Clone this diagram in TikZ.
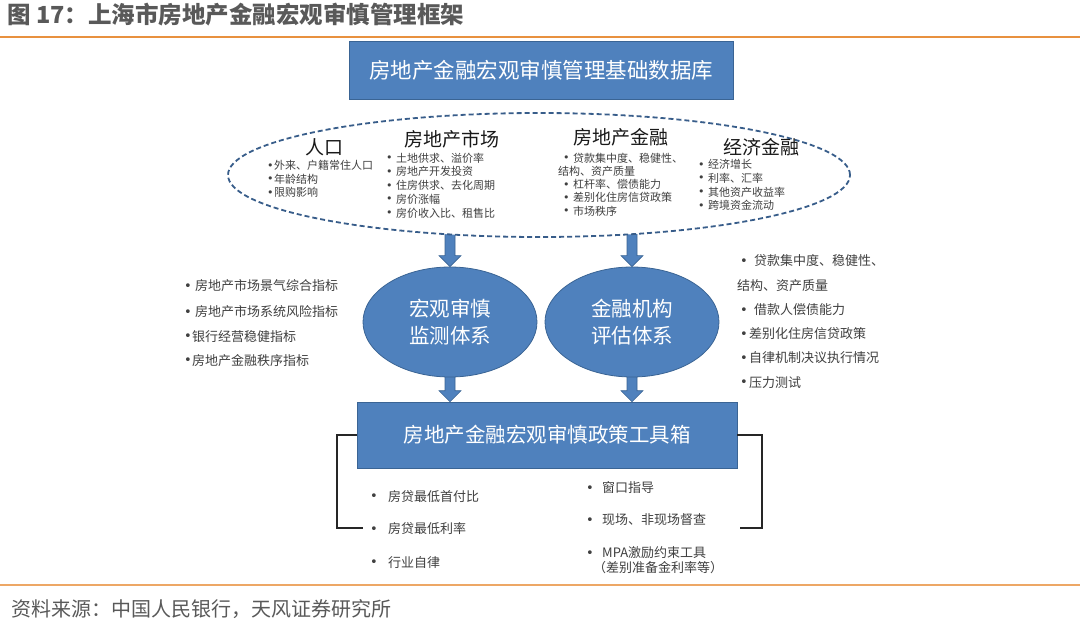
\documentclass[tikz,border=0pt]{standalone}
\usepackage{fontspec}
\setmainfont{Noto Sans CJK SC}
\newfontfamily\dejavu{DejaVu Sans}
\usetikzlibrary{shapes.geometric,calc}
\pgfdeclarelayer{background}
\pgfsetlayers{background,main}
\definecolor{boxblue}{HTML}{4F81BD}
\definecolor{boxborder}{HTML}{3A6494}
\definecolor{dashblue}{HTML}{385D8A}
\definecolor{orangeline}{HTML}{E8913F}
\definecolor{titlegray}{HTML}{595959}
\definecolor{txtgray}{HTML}{404040}
\newcommand\fs[1]{\fontsize{#1}{#1}\selectfont}
\newcommand\bu[1]{\makebox[#1][l]{\dejavu\raisebox{0.05em}{•}}}
\newcommand\downblock[2]{%
  \path[blockarrow] let \p1=(#1), \p2=(#2) in
    ({\x2-5pt},{\y1}) -- ({\x2+5pt},{\y1}) -- ({\x2+5pt},{\y2+11pt}) --
    ({\x2+11pt},{\y2+11pt}) -- ({\x2},{\y2}) -- ({\x2-11pt},{\y2+11pt}) --
    ({\x2-5pt},{\y2+11pt}) -- cycle;}
\tikzset{
  bluebox/.style={rectangle, fill=boxblue, draw=boxborder, line width=0.6pt, text=white, inner sep=0pt},
  bluecirc/.style={ellipse, fill=boxblue, draw=boxborder, line width=0.8pt, text=white, inner sep=0pt,
    minimum width=174, minimum height=110, align=center, font=\fontsize{20.5}{27}\selectfont},
  blockarrow/.style={fill=boxblue, draw=boxborder, line width=0.6pt},
  headtxt/.style={font=\fs{19}, text=black!90, inner sep=0pt},
  smalltxt/.style={font=\fs{11}, text=txtgray, anchor=west, inner sep=0pt},
  listtxt/.style={font=\fs{13}, text=txtgray, anchor=west, inner sep=0pt},
  bracketline/.style={draw=black!85, line width=1.4pt},
}
\begin{document}
\begin{tikzpicture}[x=1pt,y=-1pt]
\useasboundingbox (0,0) rectangle (1080,624);
\begin{pgfonlayer}{background}
\fill[white] (0,0) rectangle (1080,624);
\end{pgfonlayer}

% title and source
\node[anchor=west, font=\fs{23.5}\bfseries, text=titlegray, inner sep=0pt] (title) at (7,15) {图 17：上海市房地产金融宏观审慎管理框架};
\draw[orangeline, line width=2pt] (0,36.5) -- (1080,36.5);
\draw[orangeline!80, line width=1.5pt] (0,585) -- (1080,585);
\node[anchor=west, font=\fs{20}, text=titlegray, inner sep=0pt] (src) at (11,609) {资料来源：中国人民银行，天风证券研究所};

% top box
\node[bluebox, minimum width=384, minimum height=58, font=\fs{21.5}] (db) at (541,70) {房地产金融宏观审慎管理基础数据库};

% monitoring & assessment systems
\node[bluecirc] (mon) at (450,322) {宏观审慎\\监测体系};
\node[bluecirc] (ins) at (632,322) {金融机构\\评估体系};

% dashed ellipse with contents
\node[ellipse, draw=dashblue, line width=1.8pt, dash pattern=on 5pt off 3pt, fill=white,
      minimum width=622, minimum height=124, inner sep=0pt] (env) at (539,175) {};

\node[headtxt] (hpop) at (324,147) {人口};
\node[headtxt] (hmkt) at (452,139) {房地产市场};
\node[headtxt] (hfin) at (621,137) {房地产金融};
\node[headtxt] (heco) at (761,147) {经济金融};

\foreach \t [count=\i] in {外来、户籍常住人口,年龄结构,限购影响}
  \node[smalltxt] (pop\i) at (267,{165.5+13.5*(\i-1)}) {\bu{7pt}\t};
\foreach \t [count=\i] in {土地供求、溢价率,房地产开发投资,住房供求、去化周期,房价涨幅,房价收入比、租售比}
  \node[smalltxt] (mkt\i) at (386,{158+13.75*(\i-1)}) {\bu{10pt}\t};
\foreach \xx/\t [count=\i] in {563/{\bu{10pt}贷款集中度、稳健性、},558/结构、资产质量,563/{\bu{10pt}杠杆率、偿债能力},563/{\bu{10pt}差别化住房信贷政策},563/{\bu{10pt}市场秩序}}
  \node[smalltxt] (fin\i) at (\xx,{158+13.25*(\i-1)}) {\t};
\foreach \t [count=\i] in {经济增长,利率、汇率,其他资产收益率,跨境资金流动}
  \node[smalltxt] (eco\i) at (698,{164.5+13.7*(\i-1)}) {\bu{10pt}\t};

% side lists
\foreach \t/\yy/\o [count=\i] in {房地产市场景气综合指标/286/11pt,房地产市场系统风险指标/312/11pt,银行经营稳健指标/336.5/8pt,房地产金融秩序指标/360.5/8pt}
  \node[listtxt] (ind\i) at (184,\yy) {\bu{\o}\t};
\foreach \xx/\t/\yy [count=\i] in {740/{\bu{14pt}贷款集中度、稳健性、}/261,737/结构、资产质量/286,740/{\bu{14pt}借款人偿债能力}/310,740/{\bu{9pt}差别化住房信贷政策}/334,740/{\bu{9pt}自律机制决议执行情况}/358,740/{\bu{9pt}压力测试}/382.5}
  \node[listtxt] (ev\i) at (\xx,\yy) {\t};

% toolbox
\node[bluebox, minimum width=380, minimum height=66, font=\fs{20.5}] (tool) at (547,435) {房地产金融宏观审慎政策工具箱};

\foreach \t/\yy [count=\i] in {房贷最低首付比/496.5,房贷最低利率/529,行业自律/562.5}
  \node[listtxt] (tl\i) at (370,\yy) {\bu{18pt}\t};
\foreach \xx/\t/\yy [count=\i] in {586/{\bu{16pt}窗口指导}/488,586/{\bu{16pt}现场、非现场督查}/520,586/{\bu{16pt}MPA激励约束工具}/553,593/（差别准备金利率等）/568}
  \node[listtxt] (tr\i) at (\xx,\yy) {\t};

% brackets
\coordinate (brL) at (363,528);
\coordinate (brR) at (740,528);
\draw[bracketline] (tool.west) -| ($(brL)+(-26,0)$) -- (brL);
\draw[bracketline] (tool.east) -| ($(brR)+(22,0)$) -- (brR);

% block arrows (behind circles and ellipse)
\begin{pgfonlayer}{background}
  \downblock{mon |- env.center}{mon.north}
  \downblock{ins |- env.center}{ins.north}
  \downblock{mon.center}{mon |- tool.north}
  \downblock{ins.center}{ins |- tool.north}
\end{pgfonlayer}
\end{tikzpicture}
\end{document}
